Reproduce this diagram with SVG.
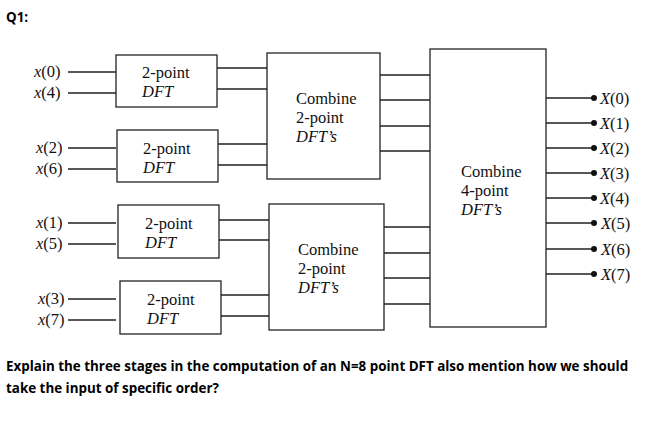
<svg xmlns="http://www.w3.org/2000/svg" width="651" height="435" viewBox="0 0 651 435">
<style>
.b{fill:#fff;stroke:#222;stroke-width:1.3}
.w{stroke:#222;stroke-width:1.3;fill:none}
.t{font-family:"Liberation Serif",serif;font-size:16.5px;fill:#111}
.i{font-style:italic}
.q{font-family:"Open Sans",sans-serif;font-weight:bold;font-size:13.4px;fill:#000}
</style>
<rect width="651" height="435" fill="#fff"/>
<text class="q" x="6" y="22">Q1:</text>
<g id="connectors">
<path class="w" d="M68 72H116M68 93H116M68 148H116M68 169H116M68 223H116M68 244H116M68 299H116M68 320H116"/>
<path class="w" d="M217 68H267M217 89H267M217 144H267M217 165H267M217 220H269M217 240H269M217 295H269M217 316H269"/>
<path class="w" d="M380 75H430M380 100H430M380 126H430M380 151H430M384 227H430M384 253H430M384 278H430M384 304H430"/>
<path class="w" d="M546 98H594M546 123H594M546 148H594M546 173H594M546 198H594M546 223H594M546 249H594M546 274H594"/>
<g fill="#111"><circle cx="594" cy="98" r="3"/><circle cx="594" cy="123" r="3"/><circle cx="594" cy="148" r="3"/><circle cx="594" cy="173" r="3"/><circle cx="594" cy="198" r="3"/><circle cx="594" cy="223" r="3"/><circle cx="594" cy="249" r="3"/><circle cx="594" cy="274" r="3"/></g>
</g>
<g id="inputs" class="t">
<text x="34" y="77"><tspan class="i">x</tspan>(0)</text>
<text x="34" y="98"><tspan class="i">x</tspan>(4)</text>
<text x="36" y="153"><tspan class="i">x</tspan>(2)</text>
<text x="36" y="174"><tspan class="i">x</tspan>(6)</text>
<text x="36" y="228"><tspan class="i">x</tspan>(1)</text>
<text x="36" y="249"><tspan class="i">x</tspan>(5)</text>
<text x="38" y="304"><tspan class="i">x</tspan>(3)</text>
<text x="38" y="325"><tspan class="i">x</tspan>(7)</text>
</g>
<g id="dft1"><rect class="b" x="116" y="55" width="101" height="52"/><text class="t" x="142" y="78">2-point</text><text class="t i" x="142" y="97">DFT</text></g>
<g id="dft2"><rect class="b" x="117" y="130" width="101" height="52"/><text class="t" x="143" y="154">2-point</text><text class="t i" x="143" y="173">DFT</text></g>
<g id="dft3"><rect class="b" x="118" y="205" width="101" height="53"/><text class="t" x="145" y="229">2-point</text><text class="t i" x="145" y="248">DFT</text></g>
<g id="dft4"><rect class="b" x="120" y="281" width="101" height="53"/><text class="t" x="147" y="305">2-point</text><text class="t i" x="147" y="324">DFT</text></g>
<g id="comb2a"><rect class="b" x="267" y="53" width="113" height="126"/><text class="t" x="296" y="104">Combine</text><text class="t" x="296" y="123">2-point</text><text class="t i" x="296" y="142">DFT’s</text></g>
<g id="comb2b"><rect class="b" x="269" y="204" width="115" height="126"/><text class="t" x="298" y="255">Combine</text><text class="t" x="298" y="274">2-point</text><text class="t i" x="298" y="293">DFT’s</text></g>
<g id="comb4"><rect class="b" x="430" y="49" width="116" height="278"/><text class="t" x="461" y="177">Combine</text><text class="t" x="461" y="196">4-point</text><text class="t i" x="461" y="215">DFT’s</text></g>
<g id="outputs" class="t">
<text x="600" y="104"><tspan class="i">X</tspan>(0)</text>
<text x="600" y="129"><tspan class="i">X</tspan>(1)</text>
<text x="600" y="154"><tspan class="i">X</tspan>(2)</text>
<text x="600" y="179"><tspan class="i">X</tspan>(3)</text>
<text x="600" y="204"><tspan class="i">X</tspan>(4)</text>
<text x="601" y="229"><tspan class="i">X</tspan>(5)</text>
<text x="601" y="255"><tspan class="i">X</tspan>(6)</text>
<text x="601" y="280"><tspan class="i">X</tspan>(7)</text>
</g>
<text class="q" x="6" y="371">Explain the three stages in the computation of an N=8 point DFT also mention how we should</text>
<text class="q" x="6" y="393">take the input of specific order?</text>
</svg>
